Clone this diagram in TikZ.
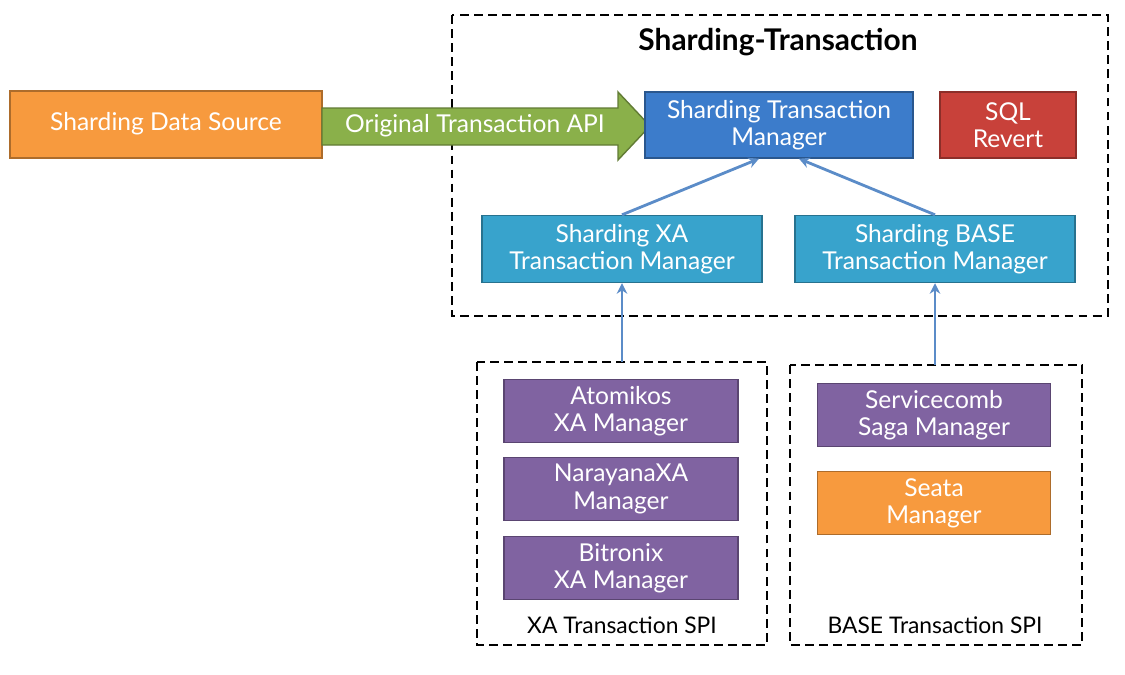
\documentclass[tikz,border=0pt]{standalone}
\usepackage{fontspec}
\setmainfont{Lato}
\usetikzlibrary{arrows.meta}
\definecolor{orng}{HTML}{F79A3E}
\definecolor{grn}{HTML}{8AB04A}
\definecolor{blu}{HTML}{3C7CCB}
\definecolor{teal}{HTML}{38A3CC}
\definecolor{rd}{HTML}{C8413A}
\definecolor{purp}{HTML}{8063A1}
\definecolor{lnk}{HTML}{5B8CC8}
\begin{document}
\begin{tikzpicture}[x=0.02cm,y=-0.02cm,
 bx/.style={draw=#1!70!black,fill=#1,text=white,align=center,font=\fontsize{14}{15.5}\selectfont,line width=0.8pt,inner sep=1pt},
 dbox/.style={draw,line width=1.3pt,dash pattern=on 5pt off 3pt},
 lab/.style={font=\fontsize{13}{15}\selectfont},
 lk/.style={draw=lnk,line width=1.6pt,-{Stealth[length=6pt,width=6pt]}}]
\useasboundingbox (0,0) rectangle (1125,674);
\draw[dbox] (452,15) rectangle (1108,316);
\node[font=\fontsize{17}{20}\selectfont\bfseries] (title) at (778,42) {Sharding-Transaction};
\draw[draw=orng!70!black,fill=orng,line width=0.8pt] (10,91) rectangle (322,158);
\node[text=white,font=\fontsize{14}{15}\selectfont] (sds) at (166,124) {Sharding Data Source};
\draw[draw=grn!70!black,fill=grn,line width=0.8pt] (322,108) -- (618,108) -- (618,92) -- (650,126) -- (618,160) -- (618,145) -- (322,145) -- cycle;
\node[text=white,font=\fontsize{14}{15}\selectfont] (api) at (475,126) {Original Transaction API};
\node[bx=blu,minimum width=268*0.02cm,minimum height=66*0.02cm] (stm) at (779,125) {Sharding Transaction\\Manager};
\node[bx=rd,minimum width=136*0.02cm,minimum height=66*0.02cm] (sql) at (1008,125) {SQL\\Revert};
\node[bx=teal,minimum width=280*0.02cm,minimum height=67*0.02cm] (xa) at (622,249) {Sharding XA\\Transaction Manager};
\node[bx=teal,minimum width=280*0.02cm,minimum height=67*0.02cm] (base) at (935,249) {Sharding BASE\\Transaction Manager};
\draw[lk] (xa.north) -- ([xshift=-20*0.02cm]stm.south);
\draw[lk] (base.north) -- ([xshift=20*0.02cm]stm.south);
\draw[dbox] (477,362) rectangle (767,645);
\draw[dbox] (790,365) rectangle (1082,645);
\coordinate (xs) at (622,362);
\coordinate (bs) at (935,365);
\draw[lk] (xs) -- (xa.south);
\draw[lk] (bs) -- (base.south);
\node[bx=purp,minimum width=234*0.02cm,minimum height=63*0.02cm] (ato) at (621,411) {Atomikos\\XA Manager};
\node[bx=purp,minimum width=234*0.02cm,minimum height=63*0.02cm] (nar) at (621,489) {NarayanaXA\\Manager};
\node[bx=purp,minimum width=234*0.02cm,minimum height=63*0.02cm] (bit) at (621,568) {Bitronix\\XA Manager};
\node[lab] (xal) at (622,625) {XA Transaction SPI};
\node[bx=purp,minimum width=233*0.02cm,minimum height=63*0.02cm] (sc) at (934,415) {Servicecomb\\Saga Manager};
\node[bx=orng,minimum width=233*0.02cm,minimum height=63*0.02cm] (se) at (934,503) {Seata\\Manager};
\node[lab] (bl) at (935,625) {BASE Transaction SPI};
\end{tikzpicture}
\end{document}
